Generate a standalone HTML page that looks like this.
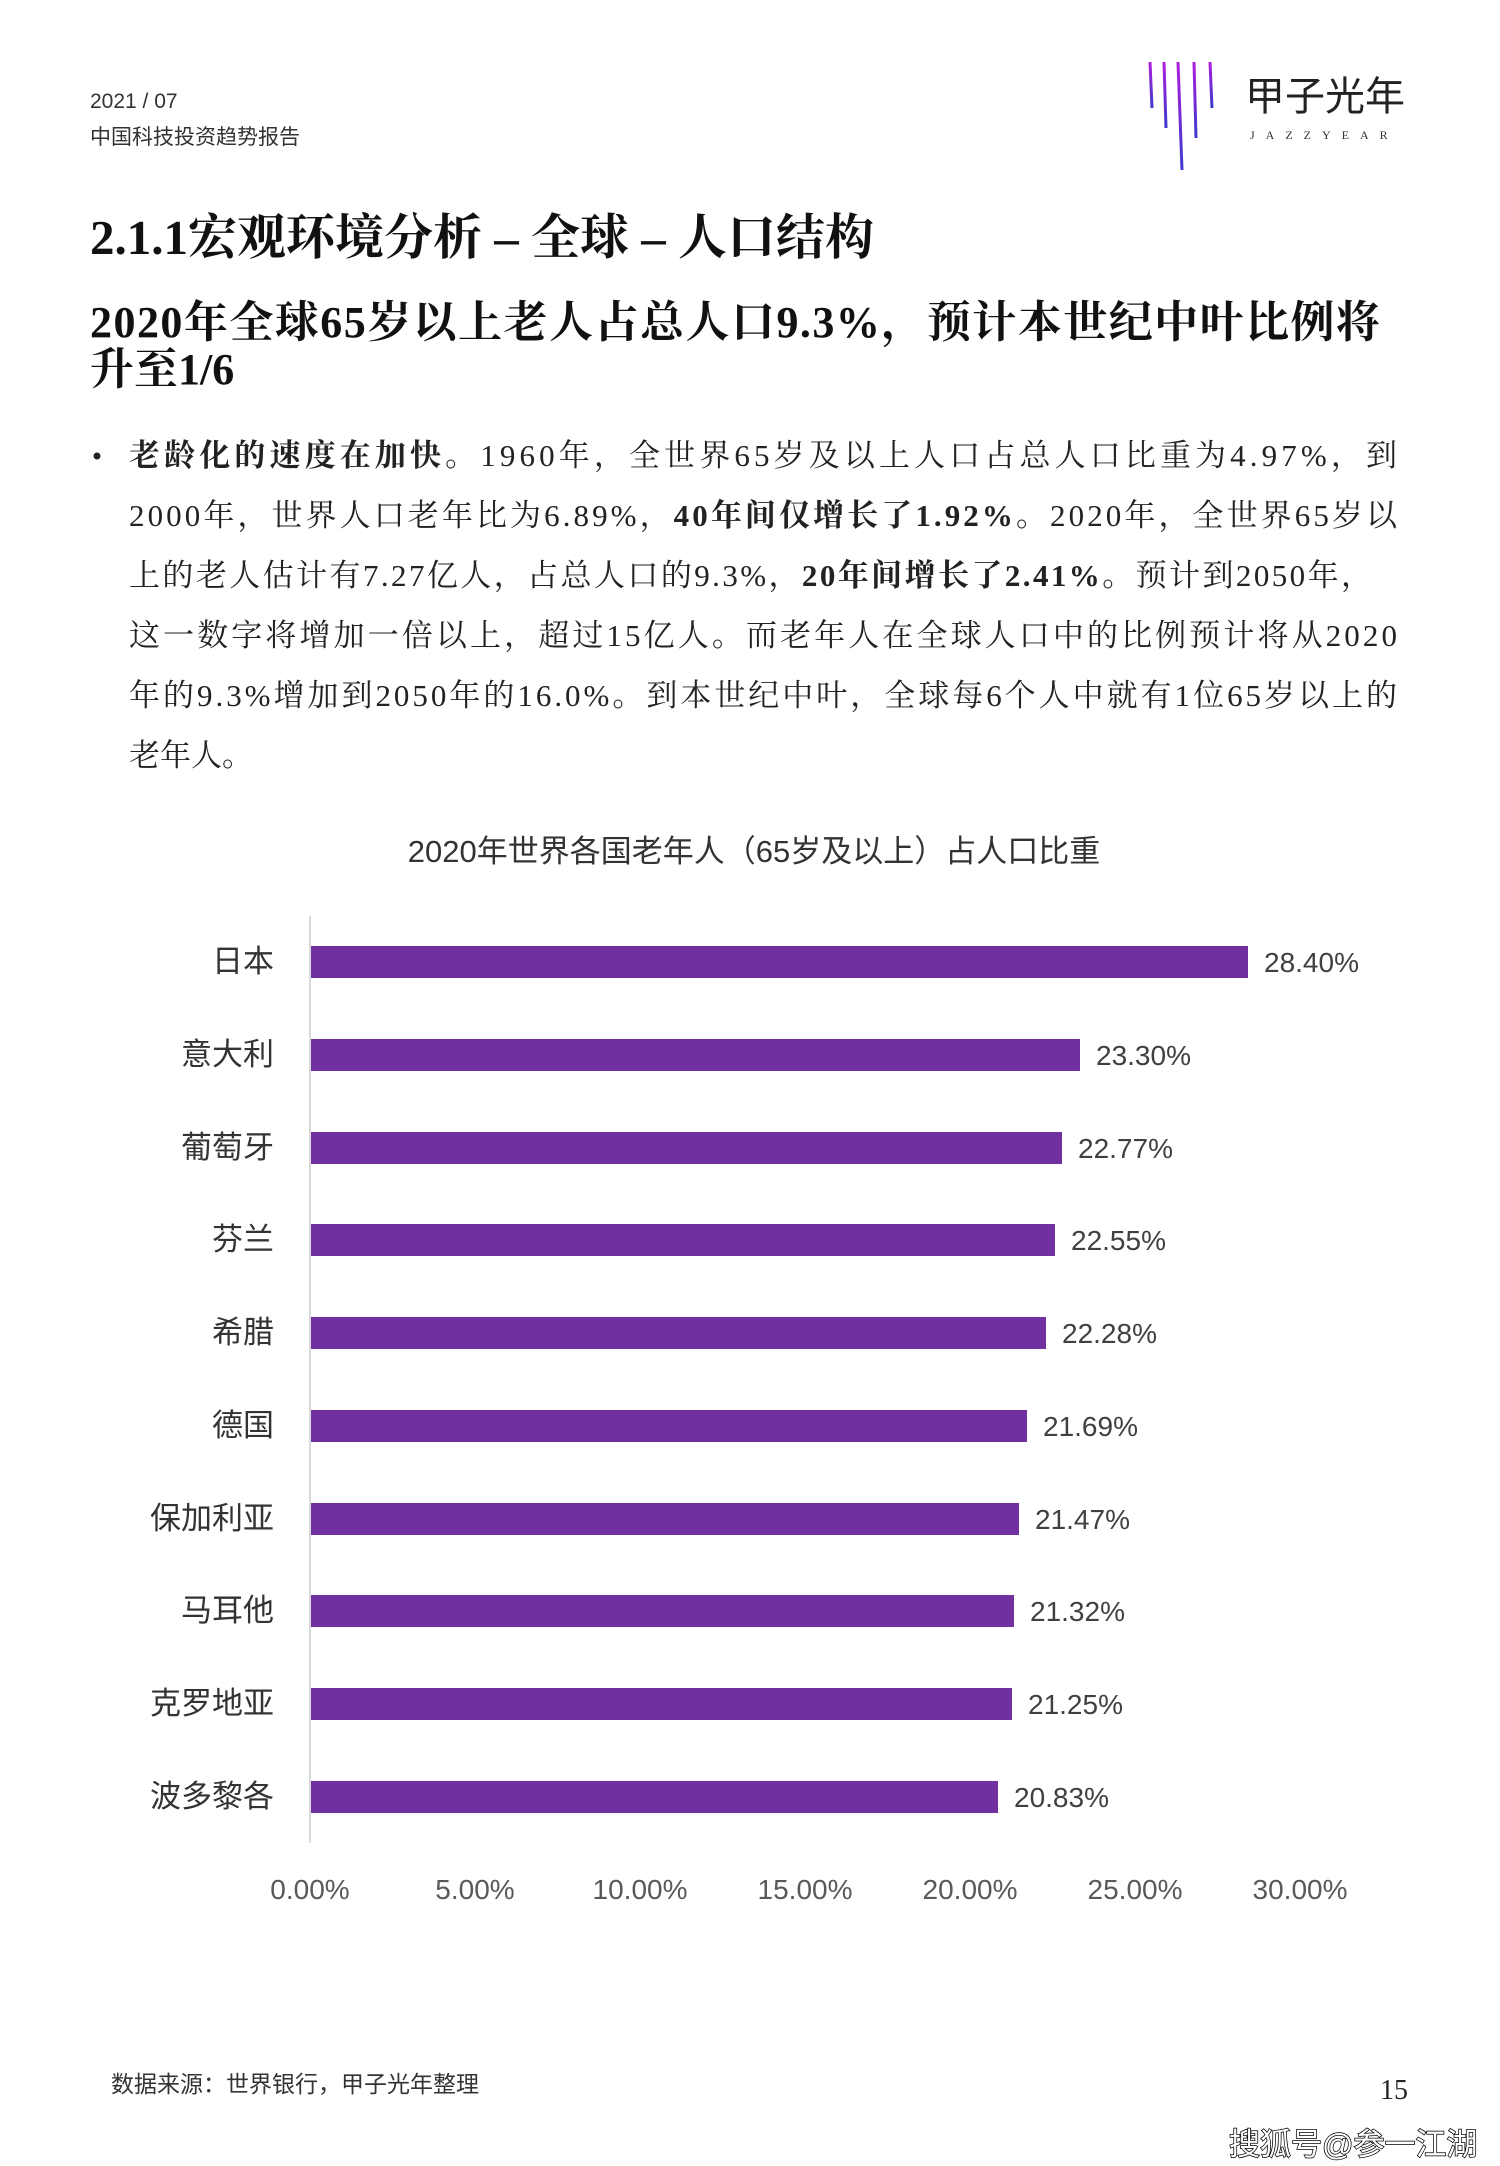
<!DOCTYPE html>
<html><head><meta charset="utf-8"><style>
html,body{margin:0;padding:0;background:#fff;}
svg{display:block;}
.s{font-family:"Liberation Sans","Noto Sans CJK SC",sans-serif;}
.r{font-family:"Liberation Serif","Noto Serif CJK SC",serif;}
</style></head><body>
<svg width="1500" height="2166" viewBox="0 0 1500 2166" xmlns="http://www.w3.org/2000/svg">
<rect width="1500" height="2166" fill="#fff"/>
<!-- header -->
<text x="90" y="108" class="s" font-size="21" fill="#333">2021 / 07</text>
<text x="90" y="144" class="s" font-size="21" fill="#333">中国科技投资趋势报告</text>
<!-- logo -->
<defs><linearGradient id="g" x1="0" y1="0" x2="0" y2="1"><stop offset="0" stop-color="#b01ed8"/><stop offset="1" stop-color="#3a3ad0"/></linearGradient></defs>
<g stroke="url(#g)" stroke-width="3">
<line x1="1150" y1="62" x2="1152" y2="108"/>
<line x1="1164" y1="62" x2="1166" y2="128"/>
<line x1="1178" y1="62" x2="1182" y2="170"/>
<line x1="1194" y1="62" x2="1196" y2="138"/>
<line x1="1210" y1="62" x2="1212" y2="108"/>
</g>
<text x="1245" y="110" class="s" font-size="40" fill="#222">甲子光年</text>
<text x="1250" y="139" class="r" font-size="12" fill="#333" letter-spacing="11">JAZZYEAR</text>
<!-- titles -->
<text x="90" y="254" class="r" font-size="49" font-weight="bold" fill="#111">2.1.1宏观环境分析 – 全球 – 人口结构</text>
<text x="90" y="337" class="r" font-size="44" font-weight="bold" fill="#111" textLength="1290" lengthAdjust="spacing">2020年全球65岁以上老人占总人口9.3%，预计本世纪中叶比例将</text>
<text x="90" y="384" class="r" font-size="44" font-weight="bold" fill="#111">升至1/6</text>
<!-- body -->
<circle cx="97" cy="456" r="3.5" fill="#222"/>
<g class="r" font-size="31" fill="#222">
<text x="129" y="466" textLength="1268" lengthAdjust="spacing"><tspan font-weight="bold">老龄化的速度在加快</tspan>。1960年，全世界65岁及以上人口占总人口比重为4.97%，到</text>
<text x="129" y="526" textLength="1268" lengthAdjust="spacing">2000年，世界人口老年比为6.89%，<tspan font-weight="bold">40年间仅增长了1.92%</tspan>。2020年，全世界65岁以</text>
<text x="129" y="586" textLength="1243" lengthAdjust="spacing">上的老人估计有7.27亿人，占总人口的9.3%，<tspan font-weight="bold">20年间增长了2.41%</tspan>。预计到2050年，</text>
<text x="129" y="646" textLength="1268" lengthAdjust="spacing">这一数字将增加一倍以上，超过15亿人。而老年人在全球人口中的比例预计将从2020</text>
<text x="129" y="706" textLength="1268" lengthAdjust="spacing">年的9.3%增加到2050年的16.0%。到本世纪中叶，全球每6个人中就有1位65岁以上的</text>
<text x="129" y="766">老年人。</text>
</g>
<!-- chart -->
<text x="754" y="862" class="s" font-size="31" fill="#333" text-anchor="middle">2020年世界各国老年人（65岁及以上）占人口比重</text>
<line x1="310" y1="916" x2="310" y2="1843" stroke="#d9d9d9" stroke-width="2"/>
<g class="s">
<g font-size="31" fill="#333" text-anchor="end">
<text x="274" y="972">日本</text>
<text x="274" y="1065">意大利</text>
<text x="274" y="1158">葡萄牙</text>
<text x="274" y="1250">芬兰</text>
<text x="274" y="1343">希腊</text>
<text x="274" y="1436">德国</text>
<text x="274" y="1529">保加利亚</text>
<text x="274" y="1621">马耳他</text>
<text x="274" y="1714">克罗地亚</text>
<text x="274" y="1807">波多黎各</text>
</g>
<g fill="#7030A0">
<rect x="311" y="946" width="937" height="32"/>
<rect x="311" y="1039" width="769" height="32"/>
<rect x="311" y="1132" width="751" height="32"/>
<rect x="311" y="1224" width="744" height="32"/>
<rect x="311" y="1317" width="735" height="32"/>
<rect x="311" y="1410" width="716" height="32"/>
<rect x="311" y="1503" width="708" height="32"/>
<rect x="311" y="1595" width="703" height="32"/>
<rect x="311" y="1688" width="701" height="32"/>
<rect x="311" y="1781" width="687" height="32"/>
</g>
<g font-size="28" fill="#404040">
<text x="1264" y="972">28.40%</text>
<text x="1096" y="1065">23.30%</text>
<text x="1078" y="1158">22.77%</text>
<text x="1071" y="1250">22.55%</text>
<text x="1062" y="1343">22.28%</text>
<text x="1043" y="1436">21.69%</text>
<text x="1035" y="1529">21.47%</text>
<text x="1030" y="1621">21.32%</text>
<text x="1028" y="1714">21.25%</text>
<text x="1014" y="1807">20.83%</text>
</g>
<g font-size="28" fill="#595959" text-anchor="middle">
<text x="310" y="1899">0.00%</text>
<text x="475" y="1899">5.00%</text>
<text x="640" y="1899">10.00%</text>
<text x="805" y="1899">15.00%</text>
<text x="970" y="1899">20.00%</text>
<text x="1135" y="1899">25.00%</text>
<text x="1300" y="1899">30.00%</text>
</g>
</g>
<!-- footer -->
<text x="111" y="2092" class="s" font-size="23" fill="#333">数据来源：世界银行，甲子光年整理</text>
<text x="1380" y="2099" class="r" font-size="28" fill="#222">15</text>
<text x="1229" y="2155" class="s" font-size="31" fill="#fff" stroke="#000" stroke-width="1.5" paint-order="stroke">搜狐号@参一江湖</text>
</svg>
</body></html>
